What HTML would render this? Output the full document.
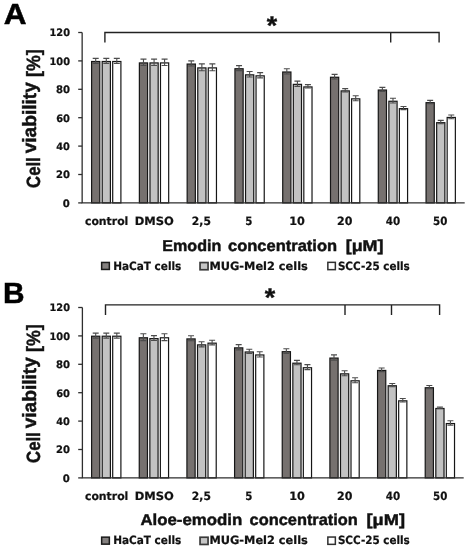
<!DOCTYPE html>
<html><head><meta charset="utf-8"><style>
html,body{margin:0;padding:0;background:#fff;}
svg{display:block;}
text{fill:#111;font-weight:bold;text-rendering:geometricPrecision;}
.tk,.cat,.lg{font-family:"DejaVu Sans Condensed","DejaVu Sans",sans-serif;font-stretch:condensed;stroke:#111;stroke-width:0.2px;}
.yt,.xt,.pl{font-family:"Liberation Sans",sans-serif;stroke:#111;stroke-width:0.45px;}
.pl{fill:#000;stroke:#000;stroke-width:0.5px;}
.star{font-family:"Liberation Sans",sans-serif;stroke:#111;stroke-width:0.4px;}
</style></head><body>
<svg width="470" height="550" viewBox="0 0 470 550">
<rect width="470" height="550" fill="#fff"/>
<rect x="91.60" y="61.50" width="8.20" height="141.40" fill="#76716f" stroke="#161616" stroke-width="1.2"/>
<rect x="102.20" y="61.50" width="8.20" height="141.40" fill="#c2c2c2" stroke="#161616" stroke-width="1.2"/>
<rect x="112.70" y="61.50" width="8.20" height="141.40" fill="#ffffff" stroke="#161616" stroke-width="1.2"/>
<rect x="139.38" y="62.92" width="8.20" height="139.98" fill="#76716f" stroke="#161616" stroke-width="1.2"/>
<rect x="149.98" y="62.92" width="8.20" height="139.98" fill="#c2c2c2" stroke="#161616" stroke-width="1.2"/>
<rect x="160.48" y="62.92" width="8.20" height="139.98" fill="#ffffff" stroke="#161616" stroke-width="1.2"/>
<rect x="187.16" y="64.06" width="8.20" height="138.84" fill="#76716f" stroke="#161616" stroke-width="1.2"/>
<rect x="197.76" y="67.89" width="8.20" height="135.01" fill="#c2c2c2" stroke="#161616" stroke-width="1.2"/>
<rect x="208.26" y="67.89" width="8.20" height="135.01" fill="#ffffff" stroke="#161616" stroke-width="1.2"/>
<rect x="234.94" y="68.74" width="8.20" height="134.16" fill="#76716f" stroke="#161616" stroke-width="1.2"/>
<rect x="245.54" y="74.85" width="8.20" height="128.05" fill="#c2c2c2" stroke="#161616" stroke-width="1.2"/>
<rect x="256.04" y="75.84" width="8.20" height="127.06" fill="#ffffff" stroke="#161616" stroke-width="1.2"/>
<rect x="282.72" y="72.01" width="8.20" height="130.89" fill="#76716f" stroke="#161616" stroke-width="1.2"/>
<rect x="293.32" y="84.36" width="8.20" height="118.54" fill="#c2c2c2" stroke="#161616" stroke-width="1.2"/>
<rect x="303.82" y="86.92" width="8.20" height="115.98" fill="#ffffff" stroke="#161616" stroke-width="1.2"/>
<rect x="330.50" y="77.26" width="8.20" height="125.64" fill="#76716f" stroke="#161616" stroke-width="1.2"/>
<rect x="341.10" y="90.89" width="8.20" height="112.01" fill="#c2c2c2" stroke="#161616" stroke-width="1.2"/>
<rect x="351.60" y="98.85" width="8.20" height="104.05" fill="#ffffff" stroke="#161616" stroke-width="1.2"/>
<rect x="378.28" y="90.04" width="8.20" height="112.86" fill="#76716f" stroke="#161616" stroke-width="1.2"/>
<rect x="388.88" y="101.26" width="8.20" height="101.64" fill="#c2c2c2" stroke="#161616" stroke-width="1.2"/>
<rect x="399.38" y="108.64" width="8.20" height="94.26" fill="#ffffff" stroke="#161616" stroke-width="1.2"/>
<rect x="426.06" y="102.68" width="8.20" height="100.22" fill="#76716f" stroke="#161616" stroke-width="1.2"/>
<rect x="436.66" y="122.70" width="8.20" height="80.20" fill="#c2c2c2" stroke="#161616" stroke-width="1.2"/>
<rect x="447.16" y="117.45" width="8.20" height="85.45" fill="#ffffff" stroke="#161616" stroke-width="1.2"/>
<path d="M95.70 58.40V63.40M92.70 58.40H98.70M92.70 63.40H98.70" stroke="#4c4c4c" stroke-width="1.1" fill="none"/>
<path d="M106.30 58.40V63.40M103.30 58.40H109.30M103.30 63.40H109.30" stroke="#4c4c4c" stroke-width="1.1" fill="none"/>
<path d="M116.80 58.40V63.40M113.80 58.40H119.80M113.80 63.40H119.80" stroke="#4c4c4c" stroke-width="1.1" fill="none"/>
<path d="M143.48 59.12V65.52M140.48 59.12H146.48M140.48 65.52H146.48" stroke="#4c4c4c" stroke-width="1.1" fill="none"/>
<path d="M154.08 59.12V65.52M151.08 59.12H157.08M151.08 65.52H157.08" stroke="#4c4c4c" stroke-width="1.1" fill="none"/>
<path d="M164.58 59.12V65.52M161.58 59.12H167.58M161.58 65.52H167.58" stroke="#4c4c4c" stroke-width="1.1" fill="none"/>
<path d="M191.26 60.86V66.06M188.26 60.86H194.26M188.26 66.06H194.26" stroke="#4c4c4c" stroke-width="1.1" fill="none"/>
<path d="M201.86 63.89V70.69M198.86 63.89H204.86M198.86 70.69H204.86" stroke="#4c4c4c" stroke-width="1.1" fill="none"/>
<path d="M212.36 63.89V70.69M209.36 63.89H215.36M209.36 70.69H215.36" stroke="#4c4c4c" stroke-width="1.1" fill="none"/>
<path d="M239.04 65.64V70.64M236.04 65.64H242.04M236.04 70.64H242.04" stroke="#4c4c4c" stroke-width="1.1" fill="none"/>
<path d="M249.64 71.45V77.05M246.64 71.45H252.64M246.64 77.05H252.64" stroke="#4c4c4c" stroke-width="1.1" fill="none"/>
<path d="M260.14 72.64V77.84M257.14 72.64H263.14M257.14 77.84H263.14" stroke="#4c4c4c" stroke-width="1.1" fill="none"/>
<path d="M286.82 68.81V74.01M283.82 68.81H289.82M283.82 74.01H289.82" stroke="#4c4c4c" stroke-width="1.1" fill="none"/>
<path d="M297.42 81.16V86.36M294.42 81.16H300.42M294.42 86.36H300.42" stroke="#4c4c4c" stroke-width="1.1" fill="none"/>
<path d="M307.92 84.62V88.02M304.92 84.62H310.92M304.92 88.02H310.92" stroke="#4c4c4c" stroke-width="1.1" fill="none"/>
<path d="M334.60 74.36V78.96M331.60 74.36H337.60M331.60 78.96H337.60" stroke="#4c4c4c" stroke-width="1.1" fill="none"/>
<path d="M345.20 88.59V91.99M342.20 88.59H348.20M342.20 91.99H348.20" stroke="#4c4c4c" stroke-width="1.1" fill="none"/>
<path d="M355.70 95.75V100.75M352.70 95.75H358.70M352.70 100.75H358.70" stroke="#4c4c4c" stroke-width="1.1" fill="none"/>
<path d="M382.38 87.34V91.54M379.38 87.34H385.38M379.38 91.54H385.38" stroke="#4c4c4c" stroke-width="1.1" fill="none"/>
<path d="M392.98 98.26V103.06M389.98 98.26H395.98M389.98 103.06H395.98" stroke="#4c4c4c" stroke-width="1.1" fill="none"/>
<path d="M403.48 106.44V109.64M400.48 106.44H406.48M400.48 109.64H406.48" stroke="#4c4c4c" stroke-width="1.1" fill="none"/>
<path d="M430.16 100.38V103.78M427.16 100.38H433.16M427.16 103.78H433.16" stroke="#4c4c4c" stroke-width="1.1" fill="none"/>
<path d="M440.76 120.40V123.80M437.76 120.40H443.76M437.76 123.80H443.76" stroke="#4c4c4c" stroke-width="1.1" fill="none"/>
<path d="M451.26 114.95V118.75M448.26 114.95H454.26M448.26 118.75H454.26" stroke="#4c4c4c" stroke-width="1.1" fill="none"/>
<path d="M82.15 32.40V202.90H464.7" stroke="#2e2e2e" stroke-width="1.3" fill="none"/>
<path d="M78.2 202.90H82.15" stroke="#2e2e2e" stroke-width="1.3"/>
<path d="M78.2 174.50H82.15" stroke="#2e2e2e" stroke-width="1.3"/>
<path d="M78.2 146.10H82.15" stroke="#2e2e2e" stroke-width="1.3"/>
<path d="M78.2 117.70H82.15" stroke="#2e2e2e" stroke-width="1.3"/>
<path d="M78.2 89.30H82.15" stroke="#2e2e2e" stroke-width="1.3"/>
<path d="M78.2 60.90H82.15" stroke="#2e2e2e" stroke-width="1.3"/>
<path d="M78.2 32.50H82.15" stroke="#2e2e2e" stroke-width="1.3"/>
<path d="M104.9 42.50V32.50H439.1V42.50M390.7 32.50V42.50" stroke="#222" stroke-width="1.4" fill="none"/>
<rect x="101.65" y="262.45" width="7.7" height="7.0" fill="#84807f" stroke="#1a1a1a" stroke-width="1.5"/>
<rect x="200.05" y="262.55" width="8.0" height="7.2" fill="#c6c6c6" stroke="#3a3a3a" stroke-width="1.7"/>
<rect x="327.85" y="262.35" width="7.5" height="7.3" fill="#fff" stroke="#303030" stroke-width="1.5"/>
<text x="62.84" y="207.00" class="tk" style="font-size:10.3px" textLength="7.03" lengthAdjust="spacingAndGlyphs">0</text>
<text x="55.95" y="178.00" class="tk" style="font-size:10.3px" textLength="13.95" lengthAdjust="spacingAndGlyphs">20</text>
<text x="56.27" y="150.00" class="tk" style="font-size:10.3px" textLength="13.64" lengthAdjust="spacingAndGlyphs">40</text>
<text x="56.18" y="122.00" class="tk" style="font-size:10.3px" textLength="13.79" lengthAdjust="spacingAndGlyphs">60</text>
<text x="56.02" y="93.00" class="tk" style="font-size:10.3px" textLength="14.01" lengthAdjust="spacingAndGlyphs">80</text>
<text x="49.50" y="65.00" class="tk" style="font-size:10.3px" textLength="20.50" lengthAdjust="spacingAndGlyphs">100</text>
<text x="49.50" y="36.00" class="tk" style="font-size:10.3px" textLength="20.50" lengthAdjust="spacingAndGlyphs">120</text>
<text x="84.95" y="225.00" class="cat" style="font-size:11.4px" textLength="43.40" lengthAdjust="spacingAndGlyphs">control</text>
<text x="134.79" y="225.00" class="cat" style="font-size:11.4px" textLength="39.12" lengthAdjust="spacingAndGlyphs">DMSO</text>
<text x="191.88" y="225.00" class="cat" style="font-size:11.4px" textLength="19.02" lengthAdjust="spacingAndGlyphs">2,5</text>
<text x="245.27" y="225.00" class="cat" style="font-size:11.4px" textLength="7.14" lengthAdjust="spacingAndGlyphs">5</text>
<text x="289.17" y="225.00" class="cat" style="font-size:11.4px" textLength="15.66" lengthAdjust="spacingAndGlyphs">10</text>
<text x="337.02" y="225.00" class="cat" style="font-size:11.4px" textLength="15.37" lengthAdjust="spacingAndGlyphs">20</text>
<text x="385.87" y="225.00" class="cat" style="font-size:11.4px" textLength="14.46" lengthAdjust="spacingAndGlyphs">40</text>
<text x="433.06" y="225.00" class="cat" style="font-size:11.4px" textLength="14.33" lengthAdjust="spacingAndGlyphs">50</text>
<text transform="translate(40.23 187.93) rotate(-90)" class="yt" style="font-size:19.2px" textLength="30.68" lengthAdjust="spacingAndGlyphs">Cell</text>
<text transform="translate(36.38 153.34) rotate(-90)" class="yt" style="font-size:19.2px" textLength="71.22" lengthAdjust="spacingAndGlyphs">viability</text>
<text transform="translate(40.40 76.92) rotate(-90)" class="yt" style="font-size:19.2px" textLength="27.58" lengthAdjust="spacingAndGlyphs">[%]</text>
<text x="162.32" y="251.00" class="xt" style="font-size:15.8px" textLength="58.92" lengthAdjust="spacingAndGlyphs">Emodin</text>
<text x="228.02" y="251.00" class="xt" style="font-size:15.8px" textLength="109.02" lengthAdjust="spacingAndGlyphs">concentration</text>
<text x="345.70" y="251.00" class="xt" style="font-size:15.8px" textLength="37.86" lengthAdjust="spacingAndGlyphs">[μM]</text>
<text x="113.17" y="270.00" class="lg" style="font-size:11.4px" textLength="68.23" lengthAdjust="spacingAndGlyphs">HaCaT cells</text>
<text x="209.52" y="270.00" class="lg" style="font-size:11.4px" textLength="98.33" lengthAdjust="spacingAndGlyphs">MUG-Mel2 cells</text>
<text x="337.90" y="270.00" class="lg" style="font-size:11.4px" textLength="71.91" lengthAdjust="spacingAndGlyphs">SCC-25 cells</text>
<text x="266.75" y="33.53" class="star" style="font-size:25.5px" textLength="10.38" lengthAdjust="spacingAndGlyphs">*</text>
<text x="3.89" y="24.03" class="pl" style="font-size:29.2px" textLength="22.78" lengthAdjust="spacingAndGlyphs">A</text>
<rect x="91.60" y="336.22" width="8.20" height="141.68" fill="#76716f" stroke="#161616" stroke-width="1.2"/>
<rect x="102.20" y="336.22" width="8.20" height="141.68" fill="#c2c2c2" stroke="#161616" stroke-width="1.2"/>
<rect x="112.70" y="336.22" width="8.20" height="141.68" fill="#ffffff" stroke="#161616" stroke-width="1.2"/>
<rect x="139.26" y="337.78" width="8.20" height="140.12" fill="#76716f" stroke="#161616" stroke-width="1.2"/>
<rect x="149.86" y="338.63" width="8.20" height="139.27" fill="#c2c2c2" stroke="#161616" stroke-width="1.2"/>
<rect x="160.36" y="337.78" width="8.20" height="140.12" fill="#ffffff" stroke="#161616" stroke-width="1.2"/>
<rect x="186.92" y="338.91" width="8.20" height="138.99" fill="#76716f" stroke="#161616" stroke-width="1.2"/>
<rect x="197.52" y="344.88" width="8.20" height="133.02" fill="#c2c2c2" stroke="#161616" stroke-width="1.2"/>
<rect x="208.02" y="343.17" width="8.20" height="134.73" fill="#ffffff" stroke="#161616" stroke-width="1.2"/>
<rect x="234.58" y="347.86" width="8.20" height="130.04" fill="#76716f" stroke="#161616" stroke-width="1.2"/>
<rect x="245.18" y="351.98" width="8.20" height="125.92" fill="#c2c2c2" stroke="#161616" stroke-width="1.2"/>
<rect x="255.68" y="354.96" width="8.20" height="122.94" fill="#ffffff" stroke="#161616" stroke-width="1.2"/>
<rect x="282.24" y="351.69" width="8.20" height="126.21" fill="#76716f" stroke="#161616" stroke-width="1.2"/>
<rect x="292.84" y="363.20" width="8.20" height="114.70" fill="#c2c2c2" stroke="#161616" stroke-width="1.2"/>
<rect x="303.34" y="367.74" width="8.20" height="110.16" fill="#ffffff" stroke="#161616" stroke-width="1.2"/>
<rect x="329.90" y="358.08" width="8.20" height="119.82" fill="#76716f" stroke="#161616" stroke-width="1.2"/>
<rect x="340.50" y="373.85" width="8.20" height="104.05" fill="#c2c2c2" stroke="#161616" stroke-width="1.2"/>
<rect x="351.00" y="380.80" width="8.20" height="97.10" fill="#ffffff" stroke="#161616" stroke-width="1.2"/>
<rect x="377.56" y="370.44" width="8.20" height="107.46" fill="#76716f" stroke="#161616" stroke-width="1.2"/>
<rect x="388.16" y="385.77" width="8.20" height="92.13" fill="#c2c2c2" stroke="#161616" stroke-width="1.2"/>
<rect x="398.66" y="400.83" width="8.20" height="77.07" fill="#ffffff" stroke="#161616" stroke-width="1.2"/>
<rect x="425.22" y="387.76" width="8.20" height="90.14" fill="#76716f" stroke="#161616" stroke-width="1.2"/>
<rect x="435.82" y="408.49" width="8.20" height="69.41" fill="#c2c2c2" stroke="#161616" stroke-width="1.2"/>
<rect x="446.32" y="423.55" width="8.20" height="54.35" fill="#ffffff" stroke="#161616" stroke-width="1.2"/>
<path d="M95.70 333.12V338.12M92.70 333.12H98.70M92.70 338.12H98.70" stroke="#4c4c4c" stroke-width="1.1" fill="none"/>
<path d="M106.30 333.12V338.12M103.30 333.12H109.30M103.30 338.12H109.30" stroke="#4c4c4c" stroke-width="1.1" fill="none"/>
<path d="M116.80 333.12V338.12M113.80 333.12H119.80M113.80 338.12H119.80" stroke="#4c4c4c" stroke-width="1.1" fill="none"/>
<path d="M143.36 333.78V340.58M140.36 333.78H146.36M140.36 340.58H146.36" stroke="#4c4c4c" stroke-width="1.1" fill="none"/>
<path d="M153.96 335.63V340.43M150.96 335.63H156.96M150.96 340.43H156.96" stroke="#4c4c4c" stroke-width="1.1" fill="none"/>
<path d="M164.46 333.78V340.58M161.46 333.78H167.46M161.46 340.58H167.46" stroke="#4c4c4c" stroke-width="1.1" fill="none"/>
<path d="M191.02 335.81V340.81M188.02 335.81H194.02M188.02 340.81H194.02" stroke="#4c4c4c" stroke-width="1.1" fill="none"/>
<path d="M201.62 341.68V346.88M198.62 341.68H204.62M198.62 346.88H204.62" stroke="#4c4c4c" stroke-width="1.1" fill="none"/>
<path d="M212.12 340.27V344.87M209.12 340.27H215.12M209.12 344.87H215.12" stroke="#4c4c4c" stroke-width="1.1" fill="none"/>
<path d="M238.68 344.66V349.86M235.68 344.66H241.68M235.68 349.86H241.68" stroke="#4c4c4c" stroke-width="1.1" fill="none"/>
<path d="M249.28 349.28V353.48M246.28 349.28H252.28M246.28 353.48H252.28" stroke="#4c4c4c" stroke-width="1.1" fill="none"/>
<path d="M259.78 351.76V356.96M256.78 351.76H262.78M256.78 356.96H262.78" stroke="#4c4c4c" stroke-width="1.1" fill="none"/>
<path d="M286.34 348.79V353.39M283.34 348.79H289.34M283.34 353.39H289.34" stroke="#4c4c4c" stroke-width="1.1" fill="none"/>
<path d="M296.94 360.40V364.80M293.94 360.40H299.94M293.94 364.80H299.94" stroke="#4c4c4c" stroke-width="1.1" fill="none"/>
<path d="M307.44 364.64V369.64M304.44 364.64H310.44M304.44 369.64H310.44" stroke="#4c4c4c" stroke-width="1.1" fill="none"/>
<path d="M334.00 354.88V360.08M331.00 354.88H337.00M331.00 360.08H337.00" stroke="#4c4c4c" stroke-width="1.1" fill="none"/>
<path d="M344.60 370.75V375.75M341.60 370.75H347.60M341.60 375.75H347.60" stroke="#4c4c4c" stroke-width="1.1" fill="none"/>
<path d="M355.10 377.70V382.70M352.10 377.70H358.10M352.10 382.70H358.10" stroke="#4c4c4c" stroke-width="1.1" fill="none"/>
<path d="M381.66 368.04V371.64M378.66 368.04H384.66M378.66 371.64H384.66" stroke="#4c4c4c" stroke-width="1.1" fill="none"/>
<path d="M392.26 383.57V386.77M389.26 383.57H395.26M389.26 386.77H395.26" stroke="#4c4c4c" stroke-width="1.1" fill="none"/>
<path d="M402.76 398.43V402.03M399.76 398.43H405.76M399.76 402.03H405.76" stroke="#4c4c4c" stroke-width="1.1" fill="none"/>
<path d="M429.32 385.56V388.76M426.32 385.56H432.32M426.32 388.76H432.32" stroke="#4c4c4c" stroke-width="1.1" fill="none"/>
<path d="M439.92 407.09V408.69M436.92 407.09H442.92M436.92 408.69H442.92" stroke="#4c4c4c" stroke-width="1.1" fill="none"/>
<path d="M450.42 420.75V425.15M447.42 420.75H453.42M447.42 425.15H453.42" stroke="#4c4c4c" stroke-width="1.1" fill="none"/>
<path d="M82.4 307.40V477.90H463.7" stroke="#2e2e2e" stroke-width="1.3" fill="none"/>
<path d="M78.2 477.90H82.4" stroke="#2e2e2e" stroke-width="1.3"/>
<path d="M78.2 449.50H82.4" stroke="#2e2e2e" stroke-width="1.3"/>
<path d="M78.2 421.10H82.4" stroke="#2e2e2e" stroke-width="1.3"/>
<path d="M78.2 392.70H82.4" stroke="#2e2e2e" stroke-width="1.3"/>
<path d="M78.2 364.30H82.4" stroke="#2e2e2e" stroke-width="1.3"/>
<path d="M78.2 335.90H82.4" stroke="#2e2e2e" stroke-width="1.3"/>
<path d="M78.2 307.50H82.4" stroke="#2e2e2e" stroke-width="1.3"/>
<path d="M105.5 314.90V304.90H439.6V314.90M345 304.90V314.90M391.5 304.90V314.90" stroke="#222" stroke-width="1.4" fill="none"/>
<rect x="101.65" y="537.15" width="7.7" height="7.0" fill="#84807f" stroke="#1a1a1a" stroke-width="1.5"/>
<rect x="200.05" y="537.25" width="8.0" height="7.2" fill="#c6c6c6" stroke="#3a3a3a" stroke-width="1.7"/>
<rect x="327.85" y="537.05" width="7.5" height="7.3" fill="#fff" stroke="#303030" stroke-width="1.5"/>
<text x="62.84" y="482.00" class="tk" style="font-size:10.3px" textLength="7.03" lengthAdjust="spacingAndGlyphs">0</text>
<text x="55.95" y="453.00" class="tk" style="font-size:10.3px" textLength="13.95" lengthAdjust="spacingAndGlyphs">20</text>
<text x="56.27" y="425.00" class="tk" style="font-size:10.3px" textLength="13.64" lengthAdjust="spacingAndGlyphs">40</text>
<text x="56.18" y="397.00" class="tk" style="font-size:10.3px" textLength="13.79" lengthAdjust="spacingAndGlyphs">60</text>
<text x="56.02" y="368.00" class="tk" style="font-size:10.3px" textLength="14.01" lengthAdjust="spacingAndGlyphs">80</text>
<text x="49.50" y="340.00" class="tk" style="font-size:10.3px" textLength="20.50" lengthAdjust="spacingAndGlyphs">100</text>
<text x="49.50" y="311.00" class="tk" style="font-size:10.3px" textLength="20.50" lengthAdjust="spacingAndGlyphs">120</text>
<text x="84.95" y="500.00" class="cat" style="font-size:11.4px" textLength="43.40" lengthAdjust="spacingAndGlyphs">control</text>
<text x="134.79" y="500.00" class="cat" style="font-size:11.4px" textLength="39.12" lengthAdjust="spacingAndGlyphs">DMSO</text>
<text x="191.88" y="500.00" class="cat" style="font-size:11.4px" textLength="19.02" lengthAdjust="spacingAndGlyphs">2,5</text>
<text x="245.27" y="500.00" class="cat" style="font-size:11.4px" textLength="7.14" lengthAdjust="spacingAndGlyphs">5</text>
<text x="289.17" y="500.00" class="cat" style="font-size:11.4px" textLength="15.66" lengthAdjust="spacingAndGlyphs">10</text>
<text x="337.02" y="500.00" class="cat" style="font-size:11.4px" textLength="15.37" lengthAdjust="spacingAndGlyphs">20</text>
<text x="385.87" y="500.00" class="cat" style="font-size:11.4px" textLength="14.46" lengthAdjust="spacingAndGlyphs">40</text>
<text x="433.06" y="500.00" class="cat" style="font-size:11.4px" textLength="14.33" lengthAdjust="spacingAndGlyphs">50</text>
<text transform="translate(40.23 462.93) rotate(-90)" class="yt" style="font-size:19.2px" textLength="30.68" lengthAdjust="spacingAndGlyphs">Cell</text>
<text transform="translate(36.38 428.34) rotate(-90)" class="yt" style="font-size:19.2px" textLength="71.22" lengthAdjust="spacingAndGlyphs">viability</text>
<text transform="translate(40.40 351.92) rotate(-90)" class="yt" style="font-size:19.2px" textLength="27.58" lengthAdjust="spacingAndGlyphs">[%]</text>
<text x="140.42" y="525.00" class="xt" style="font-size:15.8px" textLength="101.87" lengthAdjust="spacingAndGlyphs">Aloe-emodin</text>
<text x="249.64" y="525.00" class="xt" style="font-size:15.8px" textLength="108.19" lengthAdjust="spacingAndGlyphs">concentration</text>
<text x="366.52" y="525.00" class="xt" style="font-size:15.8px" textLength="38.52" lengthAdjust="spacingAndGlyphs">[μM]</text>
<text x="113.17" y="544.00" class="lg" style="font-size:11.4px" textLength="68.23" lengthAdjust="spacingAndGlyphs">HaCaT cells</text>
<text x="209.52" y="544.00" class="lg" style="font-size:11.4px" textLength="98.33" lengthAdjust="spacingAndGlyphs">MUG-Mel2 cells</text>
<text x="337.90" y="544.00" class="lg" style="font-size:11.4px" textLength="71.91" lengthAdjust="spacingAndGlyphs">SCC-25 cells</text>
<text x="264.77" y="305.75" class="star" style="font-size:25.5px" textLength="10.45" lengthAdjust="spacingAndGlyphs">*</text>
<text x="3.06" y="302.73" class="pl" style="font-size:29.2px" textLength="21.56" lengthAdjust="spacingAndGlyphs">B</text>
</svg>
</body></html>
